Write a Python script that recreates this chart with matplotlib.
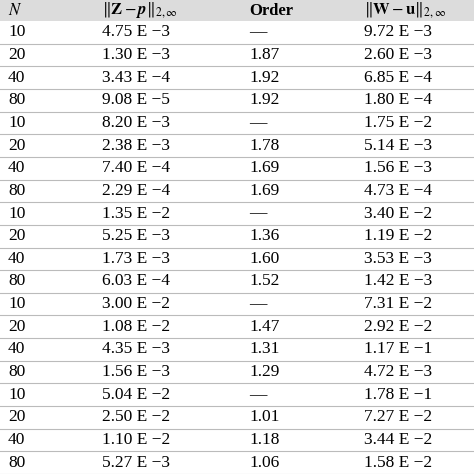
import matplotlib as mp
mp.use('Agg')
import matplotlib.pyplot as plt

plt.rcParams['font.family'] = ['Liberation Serif', 'DejaVu Serif']
plt.rcParams['mathtext.fontset'] = 'stix'

headers = [r'$\mathit{N}$', r'$\Vert\mathbf{Z} - \mathbfit{p}\Vert_{2,\infty}$', 'Order',
           r'$\Vert\mathbf{W} - \mathbf{u}\Vert_{2,\infty}$']
n_vals = ['10', '20', '40', '80'] * 5
z_err = ['4.75 E −3', '1.30 E −3', '3.43 E −4', '9.08 E −5',
         '8.20 E −3', '2.38 E −3', '7.40 E −4', '2.29 E −4',
         '1.35 E −2', '5.25 E −3', '1.73 E −3', '6.03 E −4',
         '3.00 E −2', '1.08 E −2', '4.35 E −3', '1.56 E −3',
         '5.04 E −2', '2.50 E −2', '1.10 E −2', '5.27 E −3']
order = ['—', '1.87', '1.92', '1.92',
         '—', '1.78', '1.69', '1.69',
         '—', '1.36', '1.60', '1.52',
         '—', '1.47', '1.31', '1.29',
         '—', '1.01', '1.18', '1.06']
w_err = ['9.72 E −3', '2.60 E −3', '6.85 E −4', '1.80 E −4',
         '1.75 E −2', '5.14 E −3', '1.56 E −3', '4.73 E −4',
         '3.40 E −2', '1.19 E −2', '3.53 E −3', '1.42 E −3',
         '7.31 E −2', '2.92 E −2', '1.17 E −1', '4.72 E −3',
         '1.78 E −1', '7.27 E −2', '3.44 E −2', '1.58 E −2']

W, H = 474, 474
fig = plt.figure(figsize=(W / 100, H / 100), dpi=100)
ax = fig.add_axes([0, 0, 1, 1])
ax.set_xlim(0, W)
ax.set_ylim(H, 0)
ax.axis('off')

col_x = [8, 102, 249, 364]
head_h = 21
row_h = (H - head_h) / len(n_vals)

ax.add_patch(plt.Rectangle((0, 0), W, head_h, color='#dcdcdc', lw=0))
for x, h in zip(col_x, headers):
    weight = 'normal' if h.startswith('$') else 'bold'
    ax.text(x, head_h / 2, h, fontsize=12, fontweight=weight, va='center', ha='left')

for i in range(len(n_vals)):
    yc = head_h + (i + 0.5) * row_h
    ax.axhline(head_h + (i + 1) * row_h, color='#bbbbbb', lw=0.8)
    for x, v in zip(col_x, [n_vals[i], z_err[i], order[i], w_err[i]]):
        ax.text(x, yc, v, fontsize=12.5, va='center', ha='left')

fig.savefig('out.png', dpi=100)
